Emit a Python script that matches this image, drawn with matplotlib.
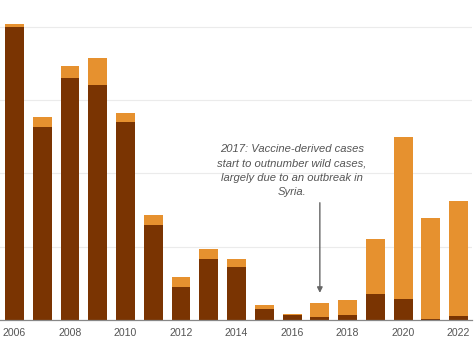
import matplotlib
matplotlib.use("Agg")
import matplotlib.pyplot as plt

years = list(range(2006, 2023))
wild = [1997, 1315, 1651, 1604, 1352, 650, 223, 416, 359, 74, 37, 22, 33, 176, 140, 6, 30]
vaccine = [20, 70, 85, 180, 60, 65, 70, 65, 55, 30, 4, 96, 104, 376, 1110, 690, 785]
tick_years = list(range(2006, 2023, 2))
note = "2017: Vaccine-derived cases\nstart to outnumber wild cases,\nlargely due to an outbreak in\nSyria."

plt.rcParams['font.family'] = ['Liberation Sans', 'DejaVu Sans']

fig = plt.figure(figsize=(4.74, 3.55), dpi=100)
ax = fig.add_axes([0, 35/355, 472/474, 320/355])

dark = "#7A3402"
orange = "#E6912F"
w = 0.68
ax.bar(years, wild, width=w, color=dark, zorder=3)
ax.bar(years, vaccine, bottom=wild, width=w, color=orange, zorder=3)

ax.set_xlim(2005.48, 2022.48)
ax.set_ylim(0, 2183)
ax.set_yticks([500, 1000, 1500, 2000])
ax.yaxis.grid(True, color="#ebebeb", linewidth=0.8, zorder=0)
ax.tick_params(axis='y', left=False, labelleft=False)
ax.set_xticks(tick_years)
ax.set_xticklabels([str(y) for y in tick_years], fontsize=7.6, color="#555555")
ax.tick_params(axis='x', length=0, pad=6)
for s in ["top", "right", "left"]:
    ax.spines[s].set_visible(False)
ax.spines["bottom"].set_color("#888888")
ax.spines["bottom"].set_linewidth(0.9)
ax.spines["bottom"].set_zorder(4)

ax.annotate("", xy=(2017, 185), xytext=(2017, 800),
            arrowprops=dict(arrowstyle="-|>", color="#666666", lw=1.0,
                            mutation_scale=8, shrinkA=0, shrinkB=0), zorder=5)
ax.text(2016.0, 1020, note, ha="center", va="center", fontsize=8.1,
        style="italic", color="#555555", linespacing=1.55, zorder=5)

fig.savefig("out.png", dpi=100)
